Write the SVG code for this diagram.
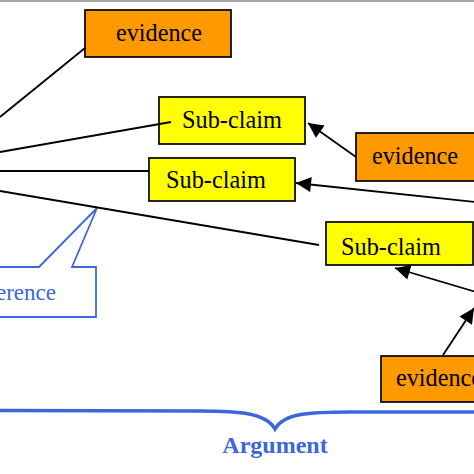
<svg xmlns="http://www.w3.org/2000/svg" width="474" height="474" viewBox="0 0 474 474">
<style>
.box{stroke:#000;stroke-width:1.7}
.ev{fill:#FF9900}
.sc{fill:#FFFF00}
.t{font-family:"Liberation Serif","Times New Roman",serif;font-size:25px;fill:#000}
.conn{stroke:#000;stroke-width:1.8;fill:none}
.blue{stroke:#3D66DD;fill:none}
.bt{font-family:"Liberation Serif","Times New Roman",serif;fill:#3D66DD}
</style>
<defs>
<marker id="ahb" viewBox="0 0 10 10" refX="10" refY="5" markerWidth="16" markerHeight="15" markerUnits="userSpaceOnUse" orient="auto">
<path d="M0 0 L10 5 L0 10 z" fill="#000"/>
</marker>
</defs>
<rect width="474" height="474" fill="#fff"/>
<rect x="0" y="0" width="474" height="2" fill="#A8A8A8"/>

<g id="evidence1"><rect class="box ev" x="85" y="10" width="146" height="47"/><text class="t" x="116" y="41" textLength="86" lengthAdjust="spacingAndGlyphs">evidence</text></g>
<g id="subclaim1"><rect class="box sc" x="159" y="97" width="146" height="47"/><text class="t" x="182" y="128" textLength="100" lengthAdjust="spacingAndGlyphs">Sub-claim</text></g>
<g id="subclaim2"><rect class="box sc" x="149" y="158" width="146" height="43"/><text class="t" x="166" y="188" textLength="100" lengthAdjust="spacingAndGlyphs">Sub-claim</text></g>
<g id="subclaim3"><rect class="box sc" x="326" y="222" width="147" height="43"/><text class="t" x="341" y="255" textLength="100" lengthAdjust="spacingAndGlyphs">Sub-claim</text></g>
<g id="evidence2"><rect class="box ev" x="356" y="133" width="130" height="48"/><text class="t" x="372" y="164" textLength="86" lengthAdjust="spacingAndGlyphs">evidence</text></g>
<g id="evidence3"><rect class="box ev" x="381" y="356" width="110" height="46"/><text class="t" x="396" y="386" textLength="86" lengthAdjust="spacingAndGlyphs">evidence</text></g>

<g id="inference"><path class="blue" stroke-width="1.8" style="fill:#fff" d="M-2 267 L39 267 L97 208 L72 267 L96 267 L96 317 L-2 317 Z"/><text class="bt" x="56" y="300" font-size="23" text-anchor="end">erence</text></g>

<g id="connectors">
<line class="conn" x1="85" y1="48" x2="0" y2="117"/>
<line class="conn" x1="171" y1="122" x2="0" y2="152"/>
<line class="conn" x1="149" y1="171" x2="0" y2="171"/>
<line class="conn" x1="319" y1="245" x2="0" y2="191"/>
<line class="conn" x1="356" y1="157" x2="308" y2="123" marker-end="url(#ahb)"/>
<line class="conn" x1="476" y1="202" x2="296" y2="183" marker-end="url(#ahb)"/>
<line class="conn" x1="476" y1="292" x2="395" y2="268" marker-end="url(#ahb)"/>
<line class="conn" x1="443" y1="355" x2="474" y2="308" marker-end="url(#ahb)"/>
</g>

<g id="argument">
<path class="blue" stroke-width="3.5" d="M0 410.5 L200 411 C240 411 266 413 275 429 C284 413 310 412 350 412 L474 412"/>
<text class="bt" x="275" y="453" font-size="24" font-weight="bold" text-anchor="middle">Argument</text>
</g>
</svg>
